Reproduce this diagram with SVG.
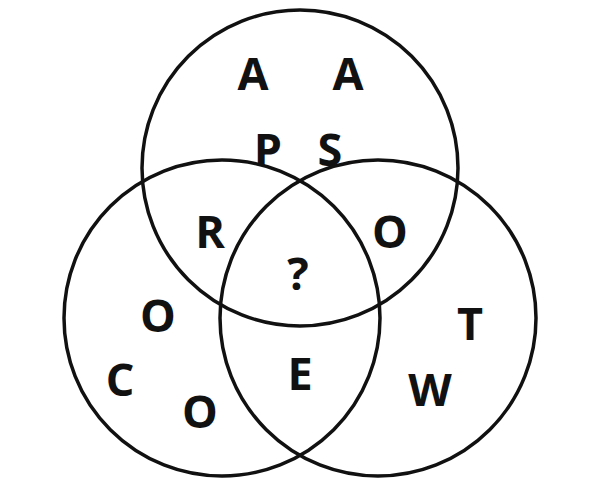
<svg xmlns="http://www.w3.org/2000/svg" width="600" height="500" viewBox="0 0 600 500">
<style>
circle{fill:none;stroke:#111;stroke-width:3.5}
text{font-family:"Open Sans","Liberation Sans",sans-serif;font-weight:bold;font-size:45px;fill:#111;text-anchor:middle;dominant-baseline:central}
</style>
<rect width="600" height="500" fill="#fff"/>
<circle cx="300" cy="168" r="158"/>
<circle cx="222" cy="318" r="158"/>
<circle cx="378" cy="318" r="158"/>
<text x="253" y="72">A</text>
<text x="348" y="72">A</text>
<text x="268" y="148">P</text>
<text x="330" y="148">S</text>
<text x="210" y="230">R</text>
<text x="390" y="230">O</text>
<text x="298" y="272" font-size="38">?</text>
<text x="158" y="314">O</text>
<text x="470" y="322">T</text>
<text x="300" y="372">E</text>
<text x="120" y="378">C</text>
<text x="430" y="388">W</text>
<text x="200" y="410">O</text>
</svg>
